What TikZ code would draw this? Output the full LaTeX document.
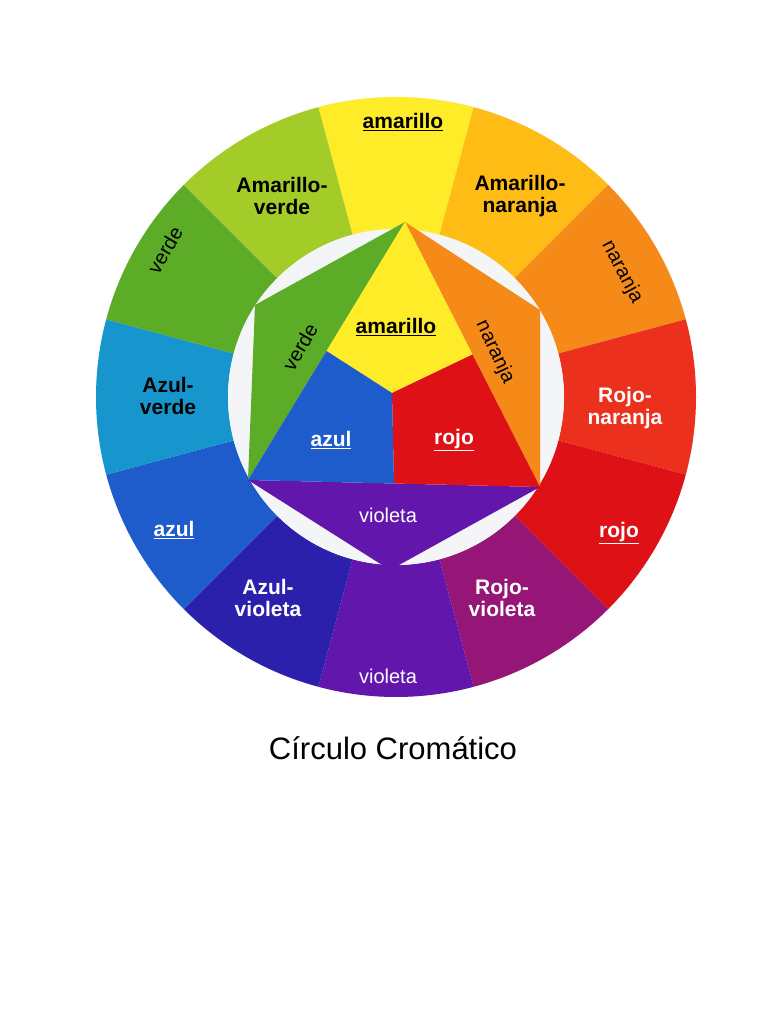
\documentclass[tikz,border=0pt]{standalone}
\usepackage{fontspec}
\setmainfont{Liberation Sans}
\usepackage{tikz}
\usetikzlibrary{positioning, calc}

\definecolor{cAm}{RGB}{255,236,40}
\definecolor{cAmNa}{RGB}{255,188,20}
\definecolor{cNa}{RGB}{246,138,24}
\definecolor{cRoNa}{RGB}{236,48,30}
\definecolor{cRo}{RGB}{222,18,22}
\definecolor{cRoVi}{RGB}{150,22,120}
\definecolor{cVi}{RGB}{98,22,172}
\definecolor{cAzVi}{RGB}{42,32,172}
\definecolor{cAz}{RGB}{30,92,204}
\definecolor{cAzVe}{RGB}{22,150,204}
\definecolor{cVe}{RGB}{92,172,40}
\definecolor{cAmVe}{RGB}{164,204,40}
\definecolor{cGap}{RGB}{236,238,240}

\begin{document}
\begin{tikzpicture}[
    x=1pt, y=1pt,
    tert/.style={align=center, font=\fontsize{21}{22}\selectfont\bfseries},
    prim/.style={font=\fontsize{21}{22}\selectfont\bfseries},
    sec/.style={font=\fontsize{20}{22}\selectfont}
]
\useasboundingbox[fill=white] (0,0) rectangle (768,1024);

% outer ring
\fill[cGap] (396,627) circle (300);
\foreach \ang/\col in {90/cAm, 60/cAmNa, 30/cNa, 0/cRoNa, -30/cRo, -60/cRoVi,
    -90/cVi, -120/cAzVi, -150/cAz, 180/cAzVe, 150/cVe, 120/cAmVe}{
  \fill[\col] ([shift={(\ang-15:300)}]396,627) arc (\ang-15:\ang+15:300)
    -- ([shift={(\ang+15:168)}]396,627) arc (\ang+15:\ang-15:168) -- cycle;
}
\fill[cGap!60!white] (396,627) circle (168);

% inner triangles
\coordinate (T) at (405,802);
\coordinate (R) at (540,537);
\coordinate (L) at (248,544);
\coordinate (C) at (392,631);
\coordinate (pNa) at (540,714);
\coordinate (pVe) at (255,719);
\coordinate (pVi) at (390,454);
\fill[cNa] (T) -- (pNa) -- (R) -- cycle;
\fill[cVe] (T) -- (pVe) -- (L) -- cycle;
\fill[cVi] (L) -- (R) -- (pVi) -- cycle;
\fill[cAm] (T) -- ($(T)!0.5!(R)$) -- (C) -- ($(T)!0.5!(L)$) -- cycle;
\fill[cRo] (R) -- ($(R)!0.5!(L)$) -- (C) -- ($(T)!0.5!(R)$) -- cycle;
\fill[cAz] (L) -- ($(R)!0.5!(L)$) -- (C) -- ($(T)!0.5!(L)$) -- cycle;

% outer labels
\node[prim] (am) at (403,902) {\underline{amarillo}};
\node[tert] (amna) at (520,828) {Amarillo-\\naranja};
\node[sec, rotate=-62] (na) at (622,752) {naranja};
\node[tert, white] (rona) at (625,616) {Rojo-\\naranja};
\node[prim, white] (ro) at (619,491) {\underline{rojo}};
\node[tert, white] (rovi) at (502,426) {Rojo-\\violeta};
\node[sec, white] (vi) at (388,348) {violeta};
\node[tert, white] (azvi) at (268,426) {Azul-\\violeta};
\node[prim, white] (az) at (174,494) {\underline{azul}};
\node[tert] (azve) at (168,628) {Azul-\\verde};
\node[sec, rotate=60] (ve) at (165,774) {verde};
\node[tert] (amve) at (282,828) {Amarillo-\\verde};

% inner labels
\node[prim] (iam) at (396,697) {\underline{amarillo}};
\node[sec, rotate=60] (ive) at (300,677) {verde};
\node[sec, rotate=-65] (ina) at (495,672) {naranja};
\node[prim, white] (iaz) at (331,584) {\underline{azul}};
\node[prim, white] (iro) at (454,584) {\underline{rojo}};
\node[sec, white] (ivi) at (388,509) {violeta};

% title
\node[font=\fontsize{31}{34}\selectfont] (title) at (393,276) {Círculo Cromático};
\end{tikzpicture}
\end{document}
